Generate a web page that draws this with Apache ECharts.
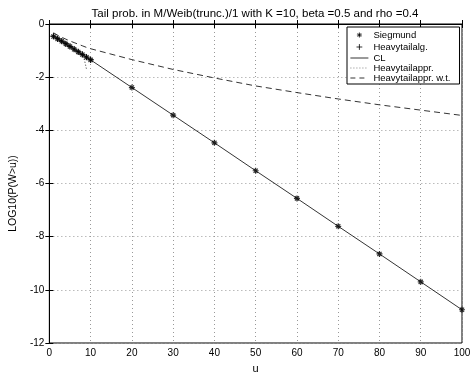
<!DOCTYPE html>
<html><head><meta charset="utf-8">
<script src="https://cdn.jsdelivr.net/npm/echarts@6/dist/echarts.min.js"></script>
<style>html,body{margin:0;padding:0;background:#fff}#c{width:474px;height:379px}</style>
</head><body><div id="c"></div>
<script>
const titleText = 'Tail prob. in M/Weib(trunc.)/1 with K =10, beta =0.5 and rho =0.4';
const xLabel = 'u';
const yLabel = 'LOG10(P(W>u))';
const uValues = [1,2,3,4,5,6,7,8,9,10,20,30,40,50,60,70,80,90,100];
const siegmund = [-0.47,-0.56,-0.65,-0.75,-0.85,-0.95,-1.05,-1.15,-1.25,-1.35,-2.39,-3.43,-4.47,-5.52,-6.56,-7.61,-8.65,-9.70,-10.75];
const heavyAlgU = [1,2,3,4,5,6,7,8,9,10];
const heavyAlg = [-0.45,-0.55,-0.64,-0.74,-0.84,-0.94,-1.04,-1.14,-1.24,-1.34];
const clValues = [-0.47,-0.56,-0.65,-0.75,-0.85,-0.95,-1.05,-1.15,-1.25,-1.35,-2.39,-3.43,-4.47,-5.52,-6.56,-7.61,-8.65,-9.70,-10.75];
const apprU = [1,2,3,4,5,6,7,8,8.5,9];
const appr = [-0.44,-0.53,-0.62,-0.71,-0.81,-0.91,-1.02,-1.18,-1.35,-1.7];
const apprWtU = [1,2,3,4,5,6,7,8,9,10,20,30,40,50,60,70,80,90,100];
const apprWt = [-0.33,-0.42,-0.5,-0.57,-0.64,-0.7,-0.76,-0.82,-0.88,-0.93,-1.34,-1.71,-2.03,-2.33,-2.58,-2.82,-3.04,-3.24,-3.44];
const xTicks = [0,10,20,30,40,50,60,70,80,90,100];
const yTicks = [0,-2,-4,-6,-8,-10,-12];

const zip = (a,b) => a.map((v,i)=>[v,b[i]]);
const starPath = 'path://M0,-1L0,1M-1,0L1,0M-0.7,-0.7L0.7,0.7M-0.7,0.7L0.7,-0.7';
const plusPath = 'path://M0,-1L0,1M-1,0L1,0';
const starLegend = 'path://M-2.2,-2.2M2.2,2.2M0,-1L0,1M-1,0L1,0M-0.7,-0.7L0.7,0.7M-0.7,0.7L0.7,-0.7';
const plusLegend = 'path://M-1.9,-1.9M1.9,1.9M0,-1L0,1M-1,0L1,0';
const font = 'Liberation Sans, Arial, sans-serif';

const chart = echarts.init(document.getElementById('c'), null, {renderer:'canvas'});
const baseX = {type:'value', min:xTicks[0], max:xTicks[xTicks.length-1], interval:10};
const baseY = {type:'value', min:yTicks[yTicks.length-1], max:yTicks[0], interval:2};
const hiddenItem = {color:'transparent', borderWidth:0, opacity:0};
chart.setOption({
  animation:false,
  backgroundColor:'#fff',
  title:{text:titleText, left:250, textAlign:'center', top:3,
    textStyle:{fontFamily:font, fontSize:11.5, fontWeight:'normal', color:'#000'}},
  grid:{left:38, right:12, top:24, bottom:28, show:true, borderColor:'#000', borderWidth:1},
  legend:{
    left:347, top:27, orient:'vertical', itemGap:0, itemWidth:18, itemHeight:11,
    backgroundColor:'#fff', borderColor:'#000', borderWidth:1, padding:[2,9,1,3],
    textStyle:{fontFamily:font, fontSize:9.5, color:'#000'},
    data:[
      {name:'Siegmund', icon:starLegend, itemStyle:{color:'transparent', borderColor:'#000', borderWidth:1}},
      {name:'Heavytailalg.', icon:plusLegend, itemStyle:{color:'transparent', borderColor:'#000', borderWidth:1}},
      {name:'CL', itemStyle:hiddenItem, lineStyle:{width:0.8, color:'#000'}},
      {name:'Heavytailappr.', itemStyle:hiddenItem, lineStyle:{width:0.8, color:'#666', type:[1,2]}},
      {name:'Heavytailappr. w.t.', itemStyle:hiddenItem, lineStyle:{width:0.8, color:'#000', type:[5,4]}}
    ]
  },
  xAxis:[
    Object.assign({}, baseX, {position:'bottom', name:xLabel, nameLocation:'middle', nameGap:20,
      nameTextStyle:{fontFamily:font, fontSize:11, color:'#000'},
      axisLine:{lineStyle:{color:'#000'}}, axisTick:{inside:true, length:4, lineStyle:{color:'#000'}},
      axisLabel:{fontFamily:font, fontSize:10, color:'#000', margin:5},
      splitLine:{show:true, lineStyle:{color:'#999', type:[1,3], width:1}}}),
    Object.assign({}, baseX, {position:'top', axisLine:{lineStyle:{color:'#000'}},
      axisTick:{inside:true, length:4, lineStyle:{color:'#000'}}, axisLabel:{show:false}, splitLine:{show:false}})
  ],
  yAxis:[
    Object.assign({}, baseY, {position:'left', name:yLabel, nameLocation:'middle', nameGap:23,
      nameTextStyle:{fontFamily:font, fontSize:10.5, color:'#000', padding:[0,0,0,-20]},
      axisLine:{lineStyle:{color:'#000'}}, axisTick:{inside:true, length:4, lineStyle:{color:'#000'}},
      axisLabel:{fontFamily:font, fontSize:10, color:'#000', margin:5},
      splitLine:{show:true, lineStyle:{color:'#999', type:[1,3], width:1}}}),
    Object.assign({}, baseY, {position:'right', axisLine:{lineStyle:{color:'#000'}},
      axisTick:{inside:true, length:4, lineStyle:{color:'#000'}}, axisLabel:{show:false}, splitLine:{show:false}})
  ],
  series:[
    {name:'CL', type:'line', data:zip(uValues, clValues), symbol:'circle', showSymbol:false, lineStyle:{color:'#000', width:0.8}, itemStyle:{color:'transparent'}, z:3},
    {name:'Heavytailappr.', type:'line', data:zip(apprU, appr), symbol:'circle', showSymbol:false, lineStyle:{color:'#000', width:0.8, type:[1,2]}, itemStyle:{color:'transparent'}, z:3},
    {name:'Heavytailappr. w.t.', type:'line', data:zip(apprWtU, apprWt), symbol:'circle', showSymbol:false, lineStyle:{color:'#000', width:0.8, type:[6,4]}, itemStyle:{color:'transparent'}, z:3},
    {name:'Siegmund', type:'scatter', data:zip(uValues, siegmund), symbol:starPath, symbolSize:6,
      itemStyle:{color:'transparent', borderColor:'#000', borderWidth:1.2}, z:4},
    {name:'Heavytailalg.', type:'scatter', data:zip(heavyAlgU, heavyAlg), symbol:plusPath, symbolSize:6,
      itemStyle:{color:'transparent', borderColor:'#000', borderWidth:1}, z:4}
  ]
});
</script></body></html>
